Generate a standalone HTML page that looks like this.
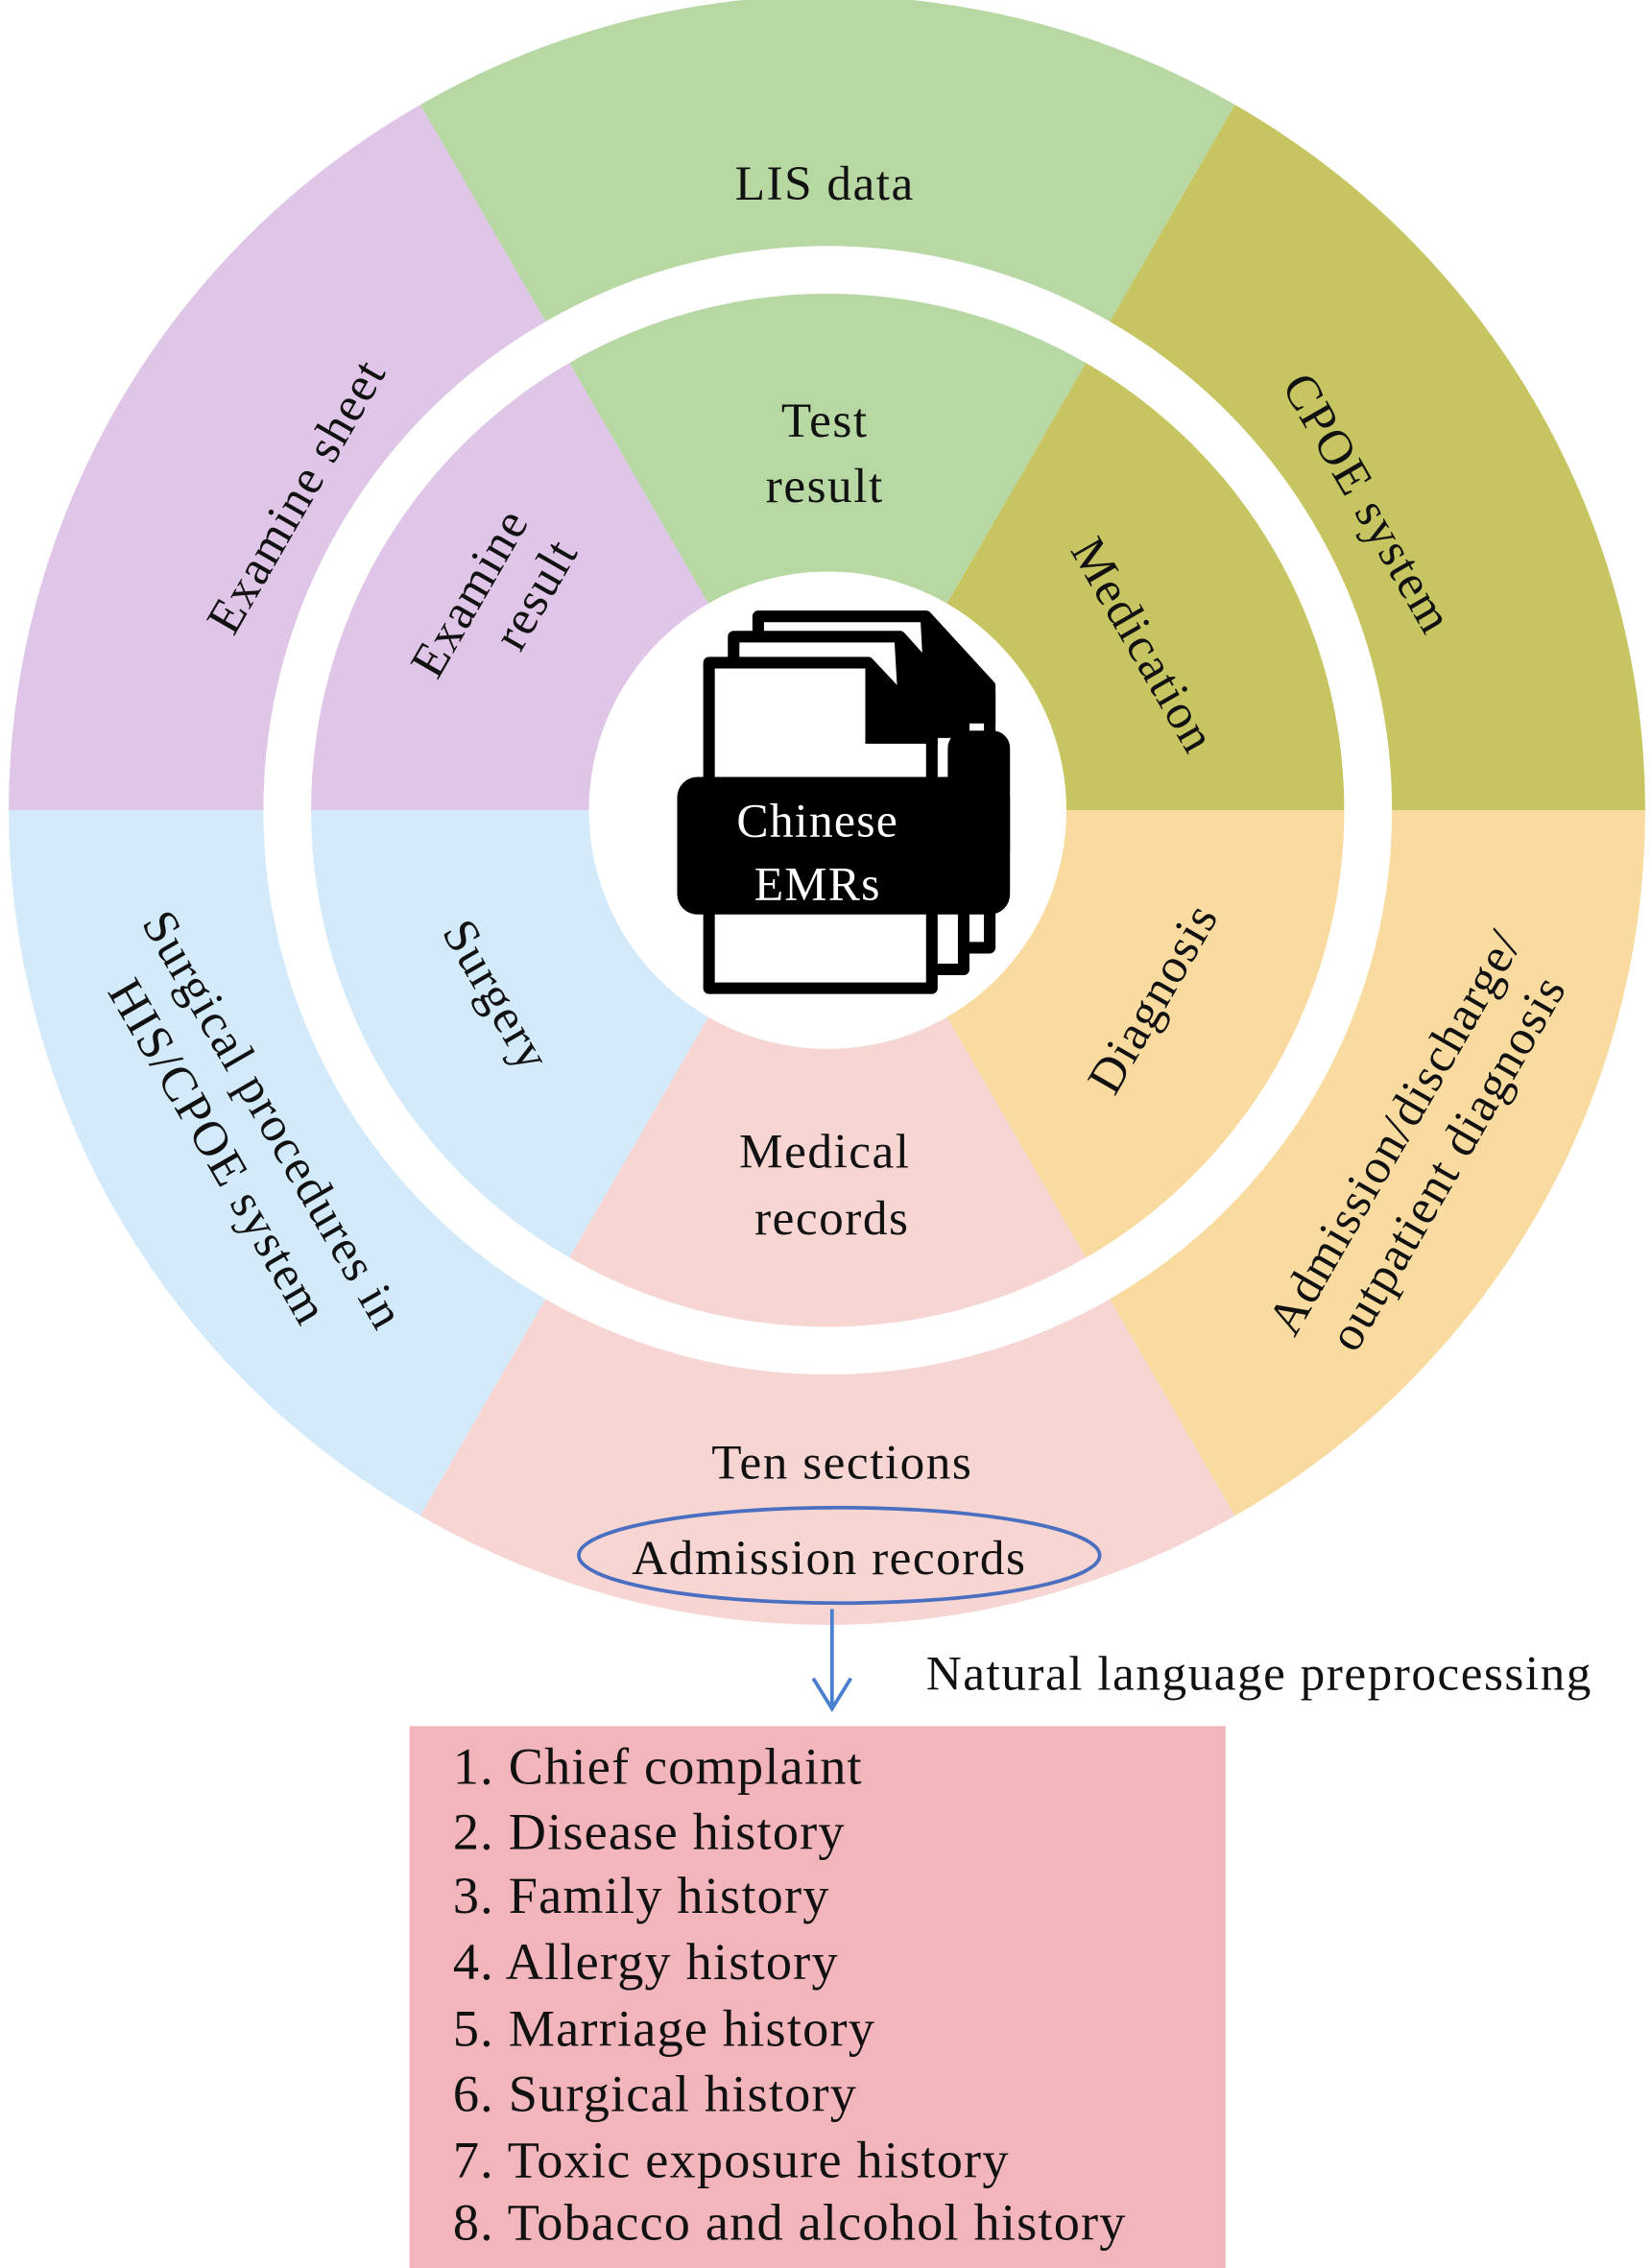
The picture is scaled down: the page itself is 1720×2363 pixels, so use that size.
<!DOCTYPE html>
<html><head><style>html,body{margin:0;padding:0;background:#fff}svg{display:block}</style></head>
<body>
<svg width="1720" height="2363" viewBox="0 0 1141 1567.5" xmlns="http://www.w3.org/2000/svg" font-family="Liberation Serif, serif" fill="#111">
<g>
<path d="M572 560 L853.5 72.4 A563 563 0 0 0 290.5 72.4 Z" fill="#b7d7a3"/>
<path d="M572 560 L1137 560 A565 563 0 0 0 853.5 72.4 Z" fill="#c7c561"/>
<path d="M572 560 L290.5 72.4 A565 563 0 0 0 6 560 Z" fill="#dfc5e7"/>
<path d="M572 560 L6 560 A565 563 0 0 0 290.5 1047.6 Z" fill="#d3eafb"/>
<path d="M572 560 L290.5 1047.6 A563 563 0 0 0 853.5 1047.6 Z" fill="#f6d5d3"/>
<path d="M572 560 L853.5 1047.6 A565 563 0 0 0 1137 560 Z" fill="#f9dba0"/>
<circle cx="572" cy="560" r="390" fill="#fff"/>
<path d="M572 560 L750.5 250.8 A357 357 0 0 0 393.5 250.8 Z" fill="#b7d7a3"/>
<path d="M572 560 L929 560 A357 357 0 0 0 750.5 250.8 Z" fill="#c7c561"/>
<path d="M572 560 L393.5 250.8 A357 357 0 0 0 215 560 Z" fill="#dfc5e7"/>
<path d="M572 560 L215 560 A357 357 0 0 0 393.5 869.2 Z" fill="#d3eafb"/>
<path d="M572 560 L393.5 869.2 A357 357 0 0 0 750.5 869.2 Z" fill="#f6d5d3"/>
<path d="M572 560 L750.5 869.2 A357 357 0 0 0 929 560 Z" fill="#f9dba0"/>
<circle cx="572" cy="560" r="165" fill="#fff"/>
</g>
<g font-size="34" letter-spacing="1" text-anchor="middle" dominant-baseline="central">
<text x="570" y="127">LIS data</text>
<text x="570" y="291">Test</text>
<text x="570" y="336">result</text>
<text transform="translate(945,348) rotate(60)">CPOE system</text>
<text transform="translate(790,446) rotate(60)">Medication</text>
<text transform="translate(205,343) rotate(-60)">Examine sheet</text>
<text transform="translate(345,410) rotate(-60)"><tspan x="-10" y="-18">Examine</tspan><tspan x="12" y="22">result</tspan></text>
<text transform="translate(343,688) rotate(60)">Surgery</text>
<text transform="translate(170,785) rotate(60)"><tspan x="0" y="-22">Surgical procedures in</tspan><tspan x="0" y="22">HIS/CPOE system</tspan></text>
<text x="570" y="796">Medical</text>
<text x="575" y="842">records</text>
<text transform="translate(797,690) rotate(-60)">Diagnosis</text>
<text transform="translate(982,793) rotate(-60)"><tspan x="0" y="-21">Admission/discharge/</tspan><tspan x="0" y="21">outpatient diagnosis</tspan></text>
<text x="582" y="1011">Ten sections</text>
<text x="573" y="1077">Admission records</text>
</g>
<ellipse cx="580" cy="1075" rx="180" ry="33" fill="none" stroke="#4a6fc0" stroke-width="2.5"/>
<line x1="575" y1="1112" x2="575" y2="1180" stroke="#4a7fd0" stroke-width="2.5"/>
<path d="M562 1160 L575 1181 L588 1160" fill="none" stroke="#4a7fd0" stroke-width="2.5"/>
<text x="640" y="1157" font-size="34" letter-spacing="1" dominant-baseline="central">Natural language preprocessing</text>
<rect x="283" y="1193" width="564" height="375" fill="#f2b5bb"/>
<g font-size="36" letter-spacing="0.8" dominant-baseline="central">
<text x="313" y="1221">1. Chief complaint</text>
<text x="313" y="1266">2. Disease history</text>
<text x="313" y="1310">3. Family history</text>
<text x="313" y="1356">4. Allergy history</text>
<text x="313" y="1402">5. Marriage history</text>
<text x="313" y="1447">6. Surgical history</text>
<text x="313" y="1493">7. Toxic exposure history</text>
<text x="313" y="1536">8. Tobacco and alcohol history</text>
</g>
<g stroke="#000" stroke-width="8" stroke-linejoin="round">
<path d="M524 426 L640 426 L684 474 L684 655 L524 655 Z" fill="#fff"/>
<path d="M507 440 L622 440 L666 489 L666 670 L507 670 Z" fill="#fff"/>
<path d="M490 458 L600 458 L644 505 L644 683 L490 683 Z" fill="#fff"/>
</g>
<path d="M636 426 L688 480 L688 500 L640 500 Z" fill="#000"/>
<path d="M618 440 L670 495 L670 510 L622 510 Z" fill="#000"/>
<path d="M598 456 L648 508 L648 514 L598 514 Z" fill="#000"/>
<rect x="468" y="537" width="230" height="95" rx="14" fill="#000"/>
<rect x="655" y="505" width="43" height="95" rx="12" fill="#000"/>
<g font-size="33" letter-spacing="0.8" text-anchor="middle" dominant-baseline="central" fill="#fff">
<text x="565" y="567">Chinese</text>
<text x="565" y="611">EMRs</text>
</g>
</svg>
</body></html>
